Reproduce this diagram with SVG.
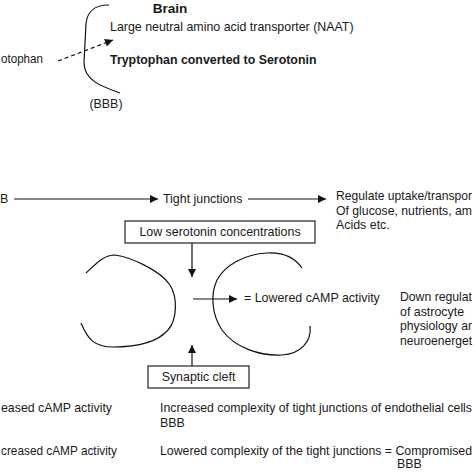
<svg xmlns="http://www.w3.org/2000/svg" width="474" height="474" viewBox="0 0 474 474">
<style>
text{font-family:"Liberation Sans",Arial,sans-serif;font-size:12.4px;fill:#1a1a1a}
.b{font-weight:bold}
.ln{stroke:#111;stroke-width:1.2;fill:none}
.box{stroke:#222;stroke-width:1.2;fill:#fff}
</style>
<defs>
<marker id="ah" viewBox="0 0 10 10" refX="10" refY="5" markerWidth="9" markerHeight="8" markerUnits="userSpaceOnUse" orient="auto">
<path d="M0,0 L10,5 L0,10 Z" fill="#111"/>
</marker>
</defs>
<rect width="474" height="474" fill="#fff"/>
<g id="connectors">
<line class="ln" x1="58" y1="61" x2="113" y2="40" stroke-dasharray="4,3" marker-end="url(#ah)"/>
<line class="ln" x1="14" y1="199" x2="158" y2="199" marker-end="url(#ah)"/>
<line class="ln" x1="248" y1="199" x2="326" y2="199" marker-end="url(#ah)"/>
<line class="ln" x1="192" y1="243" x2="192" y2="277" marker-end="url(#ah)"/>
<line class="ln" x1="193" y1="299" x2="237" y2="299" marker-end="url(#ah)"/>
<line class="ln" x1="192" y1="366" x2="192" y2="345" marker-end="url(#ah)"/>
</g>
<g id="bbb-bracket">
<path class="ln" d="M109,5 C93,5 87,12 86,24 L84,62 C84,80 100,86 120,93"/>
<text x="106" y="108" text-anchor="middle">(BBB)</text>
</g>
<g id="brain">
<text class="b" x="170" y="13" text-anchor="middle" style="font-size:13.6px">Brain</text>
<text x="110" y="31">Large neutral amino acid transporter (NAAT)</text>
<text class="b" x="110" y="64">Tryptophan converted to Serotonin</text>
</g>
<g id="tryptophan">
<text x="1" y="63" textLength="42" lengthAdjust="spacingAndGlyphs">otophan</text>
</g>
<g id="bbb-left">
<text x="0" y="203">B</text>
</g>
<g id="tight-junctions">
<text x="163" y="203">Tight junctions</text>
</g>
<g id="regulate">
<text x="336" y="200" textLength="136" lengthAdjust="spacingAndGlyphs">Regulate uptake/transpor</text>
<text x="336" y="214.5" textLength="136" lengthAdjust="spacingAndGlyphs">Of glucose, nutrients, am</text>
<text x="336" y="229">Acids etc.</text>
</g>
<g id="low-serotonin">
<rect class="box" x="125" y="221" width="190" height="22"/>
<text x="220" y="236" text-anchor="middle">Low serotonin concentrations</text>
</g>
<g id="left-cell">
<path class="ln" d="M86,273 C95,265 103,255 115,255 C130,257 160,270 170,285 C178,298 177,320 168,330 C155,345 130,347 113,347 C95,347 88,340 81,323"/>
</g>
<g id="right-cell">
<path class="ln" d="M302,268 C295,258 285,252 267,253 C245,254 225,265 217,280 C210,295 212,315 222,330 C235,348 260,356 282,355 C300,354 312,342 310,326"/>
</g>
<g id="lowered-camp">
<text x="244" y="302">= Lowered cAMP activity</text>
</g>
<g id="down-regulation">
<text x="400" y="301" textLength="72" lengthAdjust="spacingAndGlyphs">Down regulat</text>
<text x="400" y="315.5">of astrocyte</text>
<text x="400" y="330" textLength="72" lengthAdjust="spacingAndGlyphs">physiology ar</text>
<text x="400" y="344.5" textLength="72" lengthAdjust="spacingAndGlyphs">neuroenerget</text>
</g>
<g id="synaptic-cleft">
<rect class="box" x="148" y="366" width="101" height="22"/>
<text x="198.5" y="381" text-anchor="middle">Synaptic cleft</text>
</g>
<g id="row-increased">
<text x="1" y="412" textLength="111" lengthAdjust="spacingAndGlyphs">eased cAMP activity</text>
<text x="160" y="412" textLength="312" lengthAdjust="spacingAndGlyphs">Increased complexity of tight junctions of endothelial cells</text>
<text x="160" y="427">BBB</text>
</g>
<g id="row-decreased">
<text x="1" y="455" textLength="116" lengthAdjust="spacingAndGlyphs">creased cAMP activity</text>
<text x="160" y="455" textLength="312" lengthAdjust="spacingAndGlyphs">Lowered complexity of the tight junctions = Compromised</text>
<text x="397" y="468">BBB</text>
</g>
</svg>
